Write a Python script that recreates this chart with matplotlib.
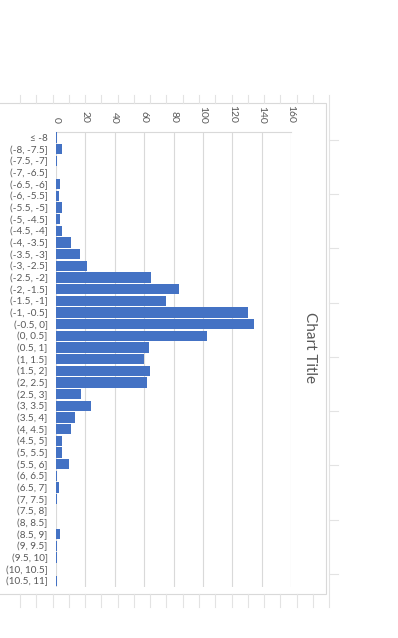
import matplotlib
matplotlib.use("Agg")
import matplotlib.pyplot as plt
from matplotlib.lines import Line2D
from matplotlib.patches import Rectangle

W, H = 398, 638

# Histogram bins (top to bottom) and counts
bins = [
    "≤ -8", "(-8, -7.5]", "(-7.5, -7]", "(-7, -6.5]", "(-6.5, -6]", "(-6, -5.5]",
    "(-5.5, -5]", "(-5, -4.5]", "(-4.5, -4]", "(-4, -3.5]", "(-3.5, -3]", "(-3, -2.5]",
    "(-2.5, -2]", "(-2, -1.5]", "(-1.5, -1]", "(-1, -0.5]", "(-0.5, 0]", "(0, 0.5]",
    "(0.5, 1]", "(1, 1.5]", "(1.5, 2]", "(2, 2.5]", "(2.5, 3]", "(3, 3.5]",
    "(3.5, 4]", "(4, 4.5]", "(4.5, 5]", "(5, 5.5]", "(5.5, 6]", "(6, 6.5]",
    "(6.5, 7]", "(7, 7.5]", "(7.5, 8]", "(8, 8.5]", "(8.5, 9]", "(9, 9.5]",
    "(9.5, 10]", "(10, 10.5]", "(10.5, 11]",
]
counts = [
    1, 4, 1, 0, 3, 2,
    4, 3, 4, 10, 16, 21,
    65, 84, 75, 131, 135, 103,
    63, 60, 64, 62, 17, 24,
    13, 10, 4, 4, 9, 1,
    2, 1, 0, 0, 3, 1,
    1, 0, 1,
]
value_ticks = [0, 20, 40, 60, 80, 100, 120, 140, 160]

TEXT = "#595959"
GRID = "#D9D9D9"
SHEET = "#E3E3E3"
BAR = "#4472C4"

plt.rcParams["font.family"] = ["Lato", "DejaVu Sans"]


def fx(x):
    return x / W


def fy(y):
    return 1 - y / H


fig = plt.figure(figsize=(W / 100, H / 100), dpi=100)

# spreadsheet cell lines around the chart
for i in range(19):
    x = 20 + i * 16.27
    fig.add_artist(Line2D([fx(x), fx(x)], [fy(95), fy(103)], color=SHEET, lw=0.8))
    fig.add_artist(Line2D([fx(x), fx(x)], [fy(594), fy(607)], color=SHEET, lw=0.8))
fig.add_artist(Line2D([fx(329), fx(329)], [fy(95), fy(607)], color=SHEET, lw=0.8))
for j in range(9):
    y = 574 - j * 54.3
    fig.add_artist(Line2D([fx(329), fx(338)], [fy(y), fy(y)], color=SHEET, lw=0.8))

# chart area border
fig.add_artist(Rectangle((fx(-2), fy(594)), fx(328), fy(103) - fy(594),
                         fill=False, edgecolor=GRID, lw=0.8))

ax = fig.add_axes([fx(56), fy(586.7), fx(291) - fx(56), fy(131.7) - fy(586.7)])
ypos = list(range(len(bins)))
ax.barh(ypos, counts, height=0.9, color=BAR, zorder=3)
ax.set_ylim(len(bins) - 0.5, -0.5)
ax.set_xlim(0, 160)

ax.set_xticks(value_ticks)
ax.xaxis.tick_top()
ax.set_xticklabels([str(v) for v in value_ticks], rotation=-90, color=TEXT, fontsize=7.5)
ax.set_yticks(ypos)
ax.set_yticklabels(bins, color=TEXT, fontsize=7.2)
ax.tick_params(axis="both", length=0)
ax.tick_params(axis="y", pad=6)
ax.tick_params(axis="x", pad=6)
ax.grid(axis="x", color=GRID, lw=0.8, zorder=0)
for side in ["left", "right", "bottom"]:
    ax.spines[side].set_visible(False)
ax.spines["top"].set_color(GRID)
ax.spines["top"].set_linewidth(0.8)

fig.text(fx(310), fy(348), "Chart Title", rotation=-90, ha="center", va="center",
         color=TEXT, fontsize=11)

fig.savefig("out.png", dpi=100)
